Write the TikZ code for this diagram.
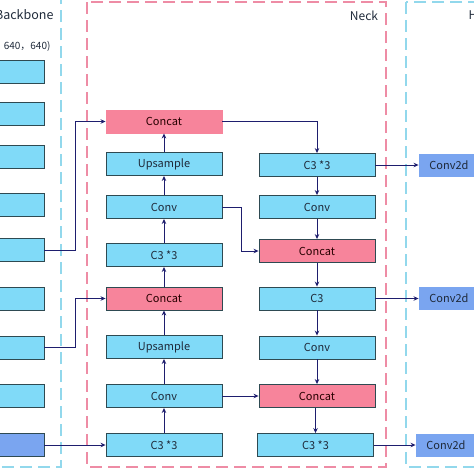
\documentclass[tikz,border=0pt]{standalone}
\usepackage{fontspec}
\setmainfont{Noto Sans CJK SC}
\usepackage{tikz}
\usetikzlibrary{arrows.meta,positioning}
\definecolor{boxblue}{HTML}{80DAF8}
\definecolor{boxpink}{HTML}{F7849B}
\definecolor{headblue}{HTML}{7AA5F0}
\definecolor{edge}{HTML}{2E4A52}
\definecolor{link}{HTML}{1E1E6E}
\definecolor{dashcyan}{HTML}{92D8EC}
\definecolor{dashpink}{HTML}{EE8CA5}
\definecolor{txt}{HTML}{1F2A3A}
\tikzset{
  blk/.style={draw=edge, fill=boxblue, line width=0.9pt, minimum width=116pt,
    minimum height=23pt, inner sep=0pt, text=txt,
    font=\fontsize{11}{13}\selectfont},
  cat/.style={blk, fill=boxpink, text=black!85!red},
  hd/.style={blk, draw=none, fill=headblue, minimum width=60pt},
  bb/.style={blk, minimum width=80pt},
  lnk/.style={link, line width=0.9pt, -{Stealth[length=5pt,width=4.5pt]}},
  frame/.style={dash pattern=on 12pt off 6pt, line width=1.4pt}
}
\begin{document}
\begin{tikzpicture}[x=1pt,y=-1pt]
    \useasboundingbox (0,0) rectangle (474,474);
    \def\XL{164}
    \def\XR{317}
    \draw [frame, dashcyan] (-30,-5) rectangle (61,467) ;
    \draw [frame, dashpink] (87,2) rectangle (386,467) ;
    \draw [frame, dashcyan] (406,2) rectangle (500,467) ;
    \node [anchor=east, font=\fontsize{12.5}{14}\selectfont, text=txt] (lbb) at (57,15) {Backbone};
    \node [anchor=east, font=\fontsize{10}{12}\selectfont, text=txt] (lin) at (54,46) {(3，640，640)};
    \node [font=\fontsize{12}{14}\selectfont, text=txt] (lnk) at (364,16) {Neck};
    \node [anchor=west, font=\fontsize{12}{14}\selectfont, text=txt] (lhd) at (465,15) {Head};
    % backbone
    \foreach \i/\y in {1/71.5,2/113.5,3/157,4/205,5/250,6/298.5,7/347.5,8/396} {
      \node [bb] (b\i) at (4,\y) {} ;
    }
    \node [bb, fill=headblue] (b9) at (4,445) {} ;
    % neck, up path
    \node [cat, draw=boxpink] (cL1) at (\XL,121.5) {Concat} ;
    \node [blk] (uL1) at (\XL,164) {Upsample} ;
    \node [blk] (vL1) at (\XL,207) {Conv} ;
    \node [blk] (tL1) at (\XL,255) {C3 *3} ;
    \node [cat] (cL2) at (\XL,298.5) {Concat} ;
    \node [blk] (uL2) at (\XL,347) {Upsample} ;
    \node [blk] (vL2) at (\XL,396) {Conv} ;
    \node [blk] (tL2) at (\XL,445) {C3 *3} ;
    % neck, down path
    \node [blk] (tR1) at (\XR,165) {C3 *3} ;
    \node [blk] (vR1) at (\XR,207) {Conv} ;
    \node [cat] (cR1) at (\XR,251) {Concat} ;
    \node [blk] (sR) at (\XR,298.5) {C3} ;
    \node [blk] (vR2) at (\XR,347.5) {Conv} ;
    \node [cat] (cR2) at (\XR,396) {Concat} ;
    \node [blk] (tR2) at (\XR-1.5,445) {C3 *3} ;
    % head
    \node [hd] (h1) at (449,165) {Conv2d} ;
    \node [hd] (h2) at (449,298.5) {Conv2d} ;
    \node [hd] (h3) at (446,445) {Conv2d} ;
    \draw [lnk] (b5.east) -- ++(31,0) |- (cL1.west) ;
    \draw [lnk] (b7.east) -- ++(31,0) |- (cL2.west) ;
    \draw [lnk] (b9.east) -- (tL2.west) ;
    \foreach \a/\b in {tL2/vL2,vL2/uL2,uL2/cL2,cL2/tL1,tL1/vL1,vL1/uL1,uL1/cL1} {
      \draw [lnk] (\a) -- (\b) ;
    }
    \draw [lnk] (cL1.east) -| (tR1.north) ;
    \foreach \a/\b in {tR1/vR1,vR1/cR1,cR1/sR,sR/vR2,vR2/cR2} {
      \draw [lnk] (\a) -- (\b) ;
    }
    \draw [lnk] (cR2.south -| tR2.north) -- (tR2.north) ;
    \draw [lnk] (vL1.east) -- ++(19,0) |- (cR1.west) ;
    \draw [lnk] (vL2.east) -- (cR2.west) ;
    \draw [lnk] (tR1.east) -- (h1.west) ;
    \draw [lnk] (sR.east) -- (h2.west) ;
    \draw [lnk] (tR2.east) -- (h3.west) ;
  \end{tikzpicture}
\end{document}
